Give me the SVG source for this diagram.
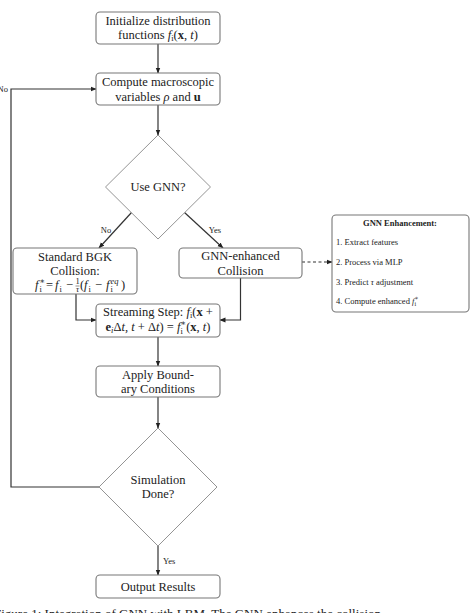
<svg xmlns="http://www.w3.org/2000/svg" width="474" height="613" viewBox="0 0 474 613">
<defs>
<marker id="ah" viewBox="0 0 6 6" refX="5.5" refY="3" markerWidth="6" markerHeight="6" markerUnits="userSpaceOnUse" orient="auto">
<path d="M0,0.6 L6,3 L0,5.4 Z" fill="#222"/>
</marker>
<style>
.box{fill:#fff;stroke:#777;stroke-width:1.1}
.dia{fill:#fff;stroke:#888;stroke-width:0.9}
.t{font-family:"Liberation Serif","DejaVu Serif",serif;font-size:12.5px;fill:#222;text-anchor:middle}
.m{font-family:"Liberation Serif","DejaVu Serif",serif;font-size:12.5px;fill:#222}
.ms{font-family:"Liberation Serif","DejaVu Serif",serif;font-size:8.5px;fill:#222}
.s{font-family:"Liberation Serif","DejaVu Serif",serif;font-size:8.5px;fill:#222}
.lab{font-family:"Liberation Serif","DejaVu Serif",serif;font-size:8.5px;fill:#222}
.e{fill:none;stroke:#333;stroke-width:1.2}
.i{font-style:italic}
.b{font-weight:bold}
</style>
</defs>
<rect width="474" height="613" fill="#fff"/>

<g id="connectors">
<line class="e" x1="158" y1="44" x2="158" y2="73" marker-end="url(#ah)"/>
<line class="e" x1="158" y1="105" x2="158" y2="135" marker-end="url(#ah)"/>
<line class="e" x1="131.5" y1="212.5" x2="99" y2="248" marker-end="url(#ah)"/>
<line class="e" x1="184.5" y1="212.5" x2="223" y2="248" marker-end="url(#ah)"/>
<polyline class="e" points="76,294 76,320 96,320" marker-end="url(#ah)"/>
<polyline class="e" points="240.5,278 240.5,320 220,320" marker-end="url(#ah)"/>
<line class="e" x1="302" y1="262" x2="332" y2="262" stroke-dasharray="3,2.5" marker-end="url(#ah)"/>
<line class="e" x1="158" y1="337" x2="158" y2="366" marker-end="url(#ah)"/>
<line class="e" x1="158" y1="397" x2="158" y2="428" marker-end="url(#ah)"/>
<line class="e" x1="158" y1="546" x2="158" y2="575" marker-end="url(#ah)"/>
<polyline class="e" points="99,487 11,487 11,89 96,89" marker-end="url(#ah)"/>
<text class="lab" x="106" y="233" text-anchor="middle">No</text>
<text class="lab" x="215" y="233" text-anchor="middle">Yes</text>
<text class="lab" x="163" y="564">Yes</text>
<text class="lab" x="8" y="92" text-anchor="end">No</text>
</g>

<g id="init">
<rect class="box" x="96" y="12" width="124" height="32" rx="4"/>
<text class="t" x="158" y="25">Initialize distribution</text>
<text class="t" x="158" y="39">functions <tspan class="i">f</tspan><tspan font-size="8.5" dy="2">i</tspan><tspan dy="-2">(</tspan><tspan class="b">x</tspan>, <tspan class="i">t</tspan>)</text>
</g>

<g id="compute">
<rect class="box" x="96" y="73" width="124" height="32" rx="4"/>
<text class="t" x="158" y="86">Compute macroscopic</text>
<text class="t" x="158" y="101">variables <tspan class="i">ρ</tspan> and <tspan class="b">u</tspan></text>
</g>

<g id="usegnn">
<polygon class="dia" points="158,135 210.5,187 158,239 105.5,187"/>
<text class="t" x="158" y="191">Use GNN?</text>
</g>

<g id="bgk">
<rect class="box" x="13" y="248" width="124" height="46" rx="4"/>
<text class="t" x="75" y="261">Standard BGK</text>
<text class="t" x="75" y="275">Collision:</text>
<text class="m i" x="35" y="289">f</text>
<text class="ms" x="39.5" y="291.5">i</text>
<text class="ms" x="39.5" y="283.5">∗</text>
<text class="m" x="46" y="289">=</text>
<text class="m i" x="55" y="289">f</text>
<text class="ms" x="59.5" y="291.5">i</text>
<text class="m" x="66" y="289">−</text>
<text class="ms" x="77.5" y="284" text-anchor="middle" font-size="7">1</text>
<line x1="75.5" y1="286" x2="79.5" y2="286" stroke="#222" stroke-width="0.5"/>
<text class="ms i" x="77.5" y="291.5" text-anchor="middle" font-size="7">τ</text>
<text class="m" x="80" y="289">(</text>
<text class="m i" x="84" y="289">f</text>
<text class="ms" x="88.5" y="291.5">i</text>
<text class="m" x="95" y="289">−</text>
<text class="m i" x="106" y="289">f</text>
<text class="ms" x="110.5" y="291.5">i</text>
<text class="ms i" x="110.5" y="284">eq</text>
<text class="m" x="121" y="289">)</text>
</g>

<g id="gnncoll">
<rect class="box" x="179" y="248" width="123" height="30" rx="4"/>
<text class="t" x="240.5" y="260">GNN-enhanced</text>
<text class="t" x="240.5" y="275">Collision</text>
</g>

<g id="gnnbox">
<rect class="box" x="332" y="215" width="137" height="97" rx="4"/>
<text class="s b" x="400" y="226" text-anchor="middle">GNN Enhancement:</text>
<text class="s" x="336" y="245">1.  Extract features</text>
<text class="s" x="336" y="265">2.  Process via MLP</text>
<text class="s" x="336" y="285">3.  Predict <tspan class="i">τ</tspan> adjustment</text>
<text class="s" x="336" y="304">4.  Compute enhanced <tspan class="i">f</tspan><tspan font-size="6" dy="2">i</tspan><tspan font-size="6" dx="-1.5" dy="-6">∗</tspan></text>
</g>

<g id="stream">
<rect class="box" x="96" y="304" width="124" height="33" rx="4"/>
<text class="t" x="158" y="316">Streaming Step:  <tspan class="i">f</tspan><tspan font-size="8.5" dy="2">i</tspan><tspan dy="-2">(</tspan><tspan class="b">x</tspan> +</text>
<text class="t" x="158" y="331"><tspan class="b">e</tspan><tspan font-size="8.5" class="i" dy="2">i</tspan><tspan dy="-2">Δ</tspan><tspan class="i">t</tspan>, <tspan class="i">t</tspan> + Δ<tspan class="i">t</tspan>) = <tspan class="i">f</tspan><tspan font-size="8.5" dy="3">i</tspan><tspan font-size="8.5" dx="-2.5" dy="-8">∗</tspan><tspan dy="5">(</tspan><tspan class="b">x</tspan>, <tspan class="i">t</tspan>)</text>
</g>

<g id="boundary">
<rect class="box" x="96" y="366" width="124" height="31" rx="4"/>
<text class="t" x="158" y="379">Apply Bound-</text>
<text class="t" x="158" y="393">ary Conditions</text>
</g>

<g id="done">
<polygon class="dia" points="158,428 217,487 158,546 99,487"/>
<text class="t" x="158" y="484">Simulation</text>
<text class="t" x="158" y="498">Done?</text>
</g>

<g id="output">
<rect class="box" x="96" y="575" width="124" height="23" rx="4"/>
<text class="t" x="158" y="591">Output Results</text>
</g>

<text x="-6" y="618" font-family="Liberation Serif, serif" font-size="13" fill="#222" textLength="387" lengthAdjust="spacing">Figure 1: Integration of GNN with LBM. The GNN enhances the collision</text>
</svg>
